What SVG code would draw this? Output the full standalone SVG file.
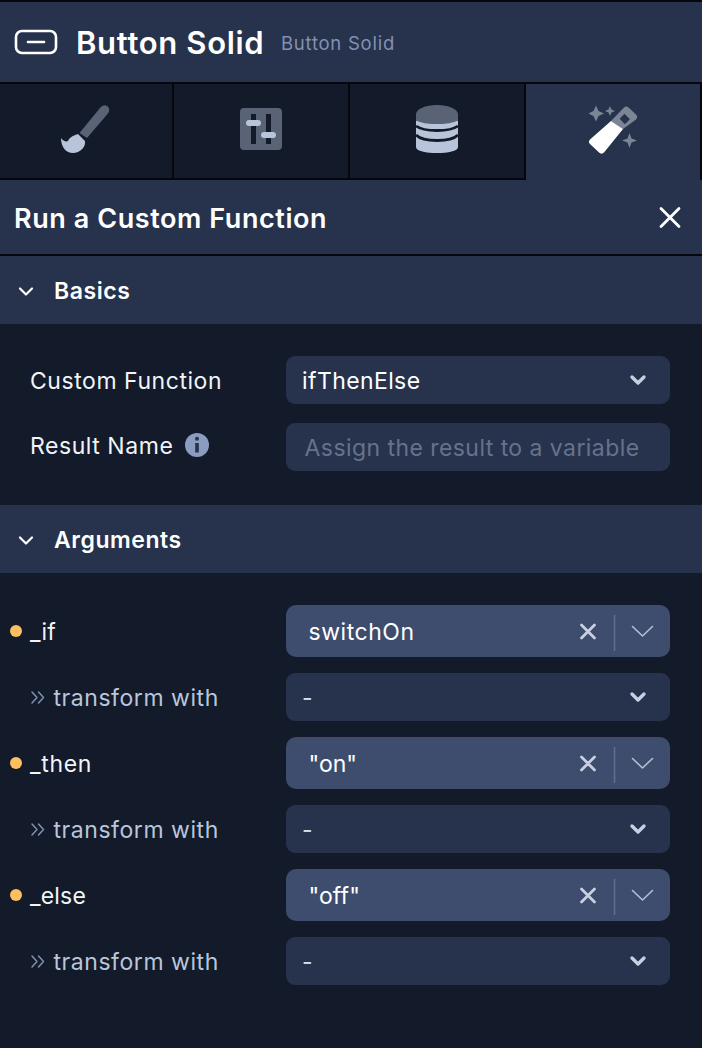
<svg xmlns="http://www.w3.org/2000/svg" width="702" height="1048" viewBox="0 0 702 1048">
<style>
text{font-family:Inter,"Liberation Sans",sans-serif;font-size:23px;fill:#fff;letter-spacing:.55px}
.sec{fill:#27324c}.dark{fill:#131a29}.blk{fill:#05070c}
.b{font-weight:600}
.sel{fill:#27324c}.chip{fill:#3e4c6d}
.lab{fill:#f1f4f8}
.tr{fill:#b9c6db}
.dot{fill:#fdbf5f}
.spark{fill:#7c8596}
.cv{fill:none;stroke:#c6d0e0;stroke-width:3.4;stroke-linecap:round;stroke-linejoin:round}
.x{fill:none;stroke:#c6d0e0;stroke-width:2.8;stroke-linecap:round}
.thin{fill:none;stroke:#b4c0d4;stroke-width:1.6;stroke-linecap:round;stroke-linejoin:round}
.arr{fill:none;stroke:#8092b3;stroke-width:1.5;stroke-linecap:round;stroke-linejoin:round}
.w{fill:none;stroke:#fff;stroke-width:2.5;stroke-linecap:round;stroke-linejoin:round}
.ic1{fill:#b8c4d9}.ic2{fill:#5a6375}
</style>
<defs>
<g id="closedrop"><rect class="chip" x="0" y="0" width="384" height="52" rx="10"/><path class="x" d="M295.500 20L308.500 33M308.500 20L295.500 33"/><path d="M328.500 10V46" stroke="#5f6f91" stroke-width="1.600" fill="none"/><path class="thin" d="M346.500 21.500L356.500 31L366.500 21.500"/></g>
<g id="plain"><rect class="sel" x="0" y="0" width="384" height="48" rx="9"/><path class="cv" d="M346 21L352 27L358 21"/></g>
<path id="chev" class="arr" d="M32 692L37 697.500L32 703M38.500 692L43.500 697.500L38.500 703"/>
</defs>
<rect class="dark" width="702" height="1048"/>
<g id="header">
<rect class="sec" y="0" width="702" height="84"/>
<rect class="blk" width="702" height="2"/>
<rect class="blk" y="82" width="702" height="2"/>
<rect x="16" y="31" width="40" height="22" rx="6" fill="none" stroke="#fff" stroke-width="2.600"/>
<path d="M28 42H44" stroke="#fff" stroke-width="2.600" stroke-linecap="round"/>
<text class="b" x="76" y="54" style="font-size:31px;letter-spacing:.67px">Button Solid</text>
<text x="281" y="50" style="font-size:18.500px;fill:#8191b3;letter-spacing:.75px">Button Solid</text>
</g>
<g id="tabs">
<rect class="dark" y="84" width="526" height="94"/>
<rect class="sec" x="526" y="84" width="174" height="96"/>
<rect class="blk" y="178" width="526" height="2"/>
<rect class="blk" x="172" y="84" width="2" height="94"/>
<rect class="blk" x="348" y="84" width="2" height="94"/>
<rect class="blk" x="524" y="84" width="2" height="96"/>
<rect class="blk" x="700" y="84" width="2" height="96"/>
<g id="tab-brush">
<path class="ic2" d="M79.500 133L100 108C103 104 107 104.500 108.500 107.500C110 110 109 112 107.500 114L87 138Z"/>
<path class="ic1" d="M78 134L85 141C86 147 80 153 73 153C66 153 61 147 61 138C63 141 66 142 68 141C69 138 72 136 78 134Z"/>
</g>
<g id="tab-sliders">
<rect class="ic2" x="240" y="108" width="42" height="42" rx="4"/>
<rect x="251" y="114" width="5" height="30" fill="#131a29"/>
<rect x="266" y="114" width="5" height="30" fill="#131a29"/>
<rect class="ic1" x="246" y="120" width="15" height="6" rx="3"/>
<rect class="ic1" x="261" y="132" width="15" height="6" rx="3"/>
</g>
<g id="tab-db">
<path class="ic1" d="M416 120H458V147C458 151 448 153 437 153C426 153 416 151 416 147Z"/>
<path d="M416 126C420 129 428 130.500 437 130.500C446 130.500 454 129 458 126M416 135C420 139 428 140.500 437 140.500C446 140.500 454 139 458 135" fill="none" stroke="#131a29" stroke-width="2.800"/>
<ellipse class="ic2" cx="437" cy="114.500" rx="21" ry="9.500"/>
<rect class="ic2" x="416" y="114" width="42" height="7"/>
<path class="ic2" d="M416 120C420 123 428 124 437 124C446 124 454 123 458 120Z"/>
</g>
<g id="tab-wand">
<path class="spark" d="M596 105.500L598.500 111L604 113.500L598.500 116L596 121.500L593.500 116L588.500 113.500L593.500 111Z"/>
<path class="spark" d="M610 106L611.500 109.500L615 111L611.500 112.500L610 116L608.500 112.500L605 111L608.500 109.500Z"/>
<path class="spark" d="M629.500 133L631.500 138.500L637 140.500L631.500 142.500L629.500 148L627.500 142.500L622 140.500L627.500 138.500Z"/>
<path class="spark" d="M611 121L624 107.500C625.500 106 627 106 628.500 107.500L636 114.500C637.500 116 637.500 118 636 119.500L623 129Z"/>
<rect x="621" y="115.500" width="7.500" height="7" transform="rotate(45 624.750 119)" fill="#27324c"/>
<path fill="#fff" d="M611 121L623 129L604 152.500C602.500 154 600.500 154 599 152.500L590 144C588.500 142.500 588.500 141 590 139.500Z"/>
</g>
</g>
<g id="panel-title">
<rect class="sec" y="180" width="702" height="74"/>
<rect class="blk" y="254" width="702" height="2"/>
<text class="b" x="14" y="228" style="font-size:27px;letter-spacing:.57px">Run a Custom Function</text>
<path class="w" d="M661 208.500L679 226.500M679 208.500L661 226.500" style="stroke-width:2.800"/>
</g>
<g id="basics">
<rect class="sec" y="256" width="702" height="68"/>
<path class="w" d="M20 288.500L26 294.500L32 288.500" style="stroke-width:2.200"/>
<text class="b" x="54" y="299">Basics</text>
</g>
<g id="custom-function">
<text class="lab" x="30" y="389">Custom Function</text>
<use href="#plain" x="286" y="356"/>
<text x="302" y="389" style="letter-spacing:.4px">ifThenElse</text>
</g>
<g id="result-name">
<text class="lab" x="30" y="454">Result Name</text>
<circle cx="197" cy="445" r="12" fill="#8c9cc0"/>
<rect x="195.200" y="443" width="3.600" height="9.500" fill="#27324c"/>
<circle cx="197" cy="438.800" r="2" fill="#27324c"/>
<rect class="sel" x="286" y="423" width="384" height="48" rx="9"/>
<text x="304.500" y="456" style="fill:#66728c;letter-spacing:.44px">Assign the result to a variable</text>
</g>
<g id="arguments">
<rect class="sec" y="505" width="702" height="68"/>
<path class="w" d="M20 537.500L26 543.500L32 537.500" style="stroke-width:2.200"/>
<text class="b" x="54" y="548">Arguments</text>
</g>
<g id="arg-if">
<circle class="dot" cx="16" cy="631" r="6"/>
<text class="lab" x="30" y="640" style="letter-spacing:.2px">_if</text>
<use href="#closedrop" x="286" y="605"/>
<text x="308.500" y="640">switchOn</text>
</g>
<g id="transform-1">
<use href="#chev"/>
<text class="tr" x="53.500" y="706">transform with</text>
<use href="#plain" x="286" y="673"/>
<text x="302" y="706" style="fill:#d8deea">-</text>
</g>
<g id="arg-then">
<circle class="dot" cx="16" cy="763" r="6"/>
<text class="lab" x="30" y="772" style="letter-spacing:.7px">_then</text>
<use href="#closedrop" x="286" y="737"/>
<text x="308.500" y="772" style="letter-spacing:0">"on"</text>
</g>
<g id="transform-2">
<use href="#chev" y="132"/>
<text class="tr" x="53.500" y="838">transform with</text>
<use href="#plain" x="286" y="805"/>
<text x="302" y="838" style="fill:#d8deea">-</text>
</g>
<g id="arg-else">
<circle class="dot" cx="16" cy="895" r="6"/>
<text class="lab" x="30" y="904" style="letter-spacing:.2px">_else</text>
<use href="#closedrop" x="286" y="869"/>
<text x="308.500" y="904" style="letter-spacing:.1px">"off"</text>
</g>
<g id="transform-3">
<use href="#chev" y="264"/>
<text class="tr" x="53.500" y="970">transform with</text>
<use href="#plain" x="286" y="937"/>
<text x="302" y="970" style="fill:#d8deea">-</text>
</g>
</svg>
